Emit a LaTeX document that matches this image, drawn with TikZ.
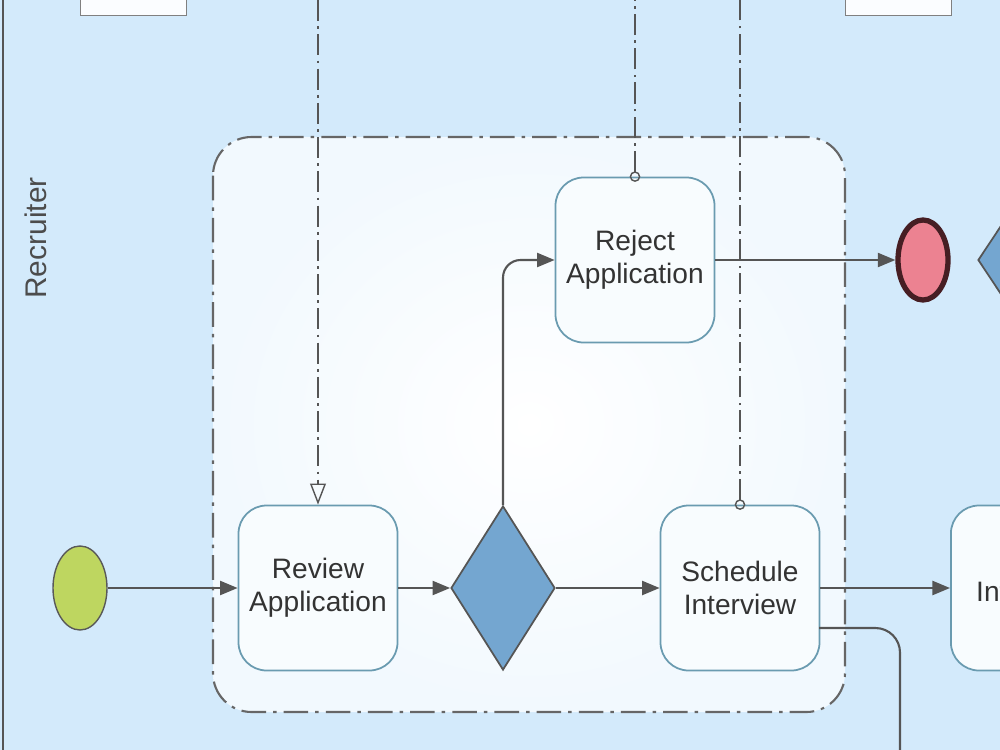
\documentclass[tikz,border=0pt]{standalone}
\usepackage{fontspec}
\setmainfont{Liberation Sans}
\usetikzlibrary{shapes.geometric,arrows.meta}
\definecolor{bg}{HTML}{D3EAFB}
\definecolor{tb}{HTML}{6A9BB0}
\definecolor{dia}{HTML}{74A6D0}
\definecolor{ln}{HTML}{555555}
\begin{document}
\begin{tikzpicture}[x=0.02cm,y=-0.02cm,
 task/.style={draw=tb,line width=1pt,rounded corners=16pt,fill=white!85!bg,minimum width=159*0.02cm,minimum height=165*0.02cm,align=center,font=\fontsize{16}{19}\selectfont,text=black!80},
 flow/.style={draw=ln,line width=1.2pt,-{Triangle[length=10pt,width=8pt]}},
 msg/.style={draw=ln,line width=0.8pt,dash pattern=on 12pt off 3pt on 1.5pt off 3pt}]
\useasboundingbox (0,0) rectangle (1000,750);
\fill[bg] (0,0) rectangle (1000,750);
\draw[ln,line width=1pt] (3,0) -- (3,750);
\node[rotate=90,font=\fontsize{17}{20}\selectfont,text=black!70] (lab) at (36,238) {Recruiter};
\node[draw=gray,fill=white!90!bg,minimum width=106*0.02cm,minimum height=30*0.02cm,anchor=south west] (tb1) at (80,16) {};
\node[draw=gray,fill=white!90!bg,minimum width=106*0.02cm,minimum height=30*0.02cm,anchor=south west] (tb2) at (845,16) {};
\draw[gray!80!black,line width=1.2pt,rounded corners=22pt,inner color=white,outer color=white!70!bg,dash pattern=on 14pt off 4pt on 2pt off 4pt] (213,137) rectangle (845,712);
\node[ellipse,draw=gray!70!black,minimum width=54*0.02cm,minimum height=84*0.02cm,line width=0.8pt,fill={rgb,255:red,190;green,214;blue,96}] (st) at (80,588) {};
\node[ellipse,draw={rgb,255:red,70;green,30;blue,35},line width=3pt,fill={rgb,255:red,236;green,130;blue,145},minimum width=50*0.02cm,minimum height=80*0.02cm] (en) at (923,260) {};
\node[task] (rev) at (318,588) {Review\\Application};
\node[task] (sch) at (740,588) {Schedule\\Interview};
\node[task] (rej) at (635,260) {Reject\\Application};
\node[task,anchor=west] (int) at (950,588) {\hspace*{1.2cm}};
\node[font=\fontsize{16}{19}\selectfont,text=black!80,anchor=west] (intl) at (970,592) {Int};
\node[diamond,draw=ln,line width=1pt,fill=dia,minimum width=104*0.02cm,minimum height=164*0.02cm,inner sep=0] (gw) at (503,588) {};
\node[diamond,draw=ln,line width=1pt,fill=dia,minimum width=60*0.02cm,minimum height=90*0.02cm,inner sep=0] (gw2) at (1008,260) {};
\draw[flow] (st) -- (rev);
\draw[flow] (rev) -- (gw);
\draw[flow] (gw) -- (sch);
\draw[flow,rounded corners=10pt] (gw.north) |- (rej.west);
\draw[flow] (rej) -- (en);
\draw[flow] (sch) -- (int);
\coordinate (bot) at (900,750);
\draw[ln,line width=1.2pt,rounded corners=14pt] (819,628) -| (bot);
\coordinate (t1) at (318,0);\coordinate (t2) at (635,0);\coordinate (t3) at (740,0);
\draw[msg,-{Triangle[open,length=12pt,width=9pt]}] (t1) -- (rev.north);
\draw[msg,{Circle[open,length=6pt]}-,shorten <=-3pt] (rej.north) -- (t2);
\draw[msg,{Circle[open,length=6pt]}-,shorten <=-3pt] (sch.north) -- (t3);
\end{tikzpicture}
\end{document}
